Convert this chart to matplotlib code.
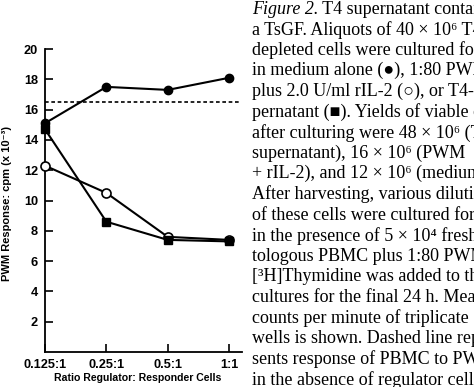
import matplotlib.pyplot as plt

ratios = ['0.125:1', '0.25:1', '0.5:1', '1:1']
medium_alone = [15.1, 17.5, 17.3, 18.1]
pwm_il2 = [12.3, 10.5, 7.6, 7.4]
t4_sup = [14.7, 8.6, 7.4, 7.3]
pbmc_alone = 16.5

caption = [
    'a TsGF. Aliquots of 40 \u00d7 10\u2076 T4-',
    'depleted cells were cultured for 3 d',
    'in medium alone (\u25cf), 1:80 PWM',
    'plus 2.0 U/ml rIL-2 (\u25cb), or T4-su',
    'pernatant (\u25a0). Yields of viable cells',
    'after culturing were 48 \u00d7 10\u2076 (T4',
    'supernatant), 16 \u00d7 10\u2076 (PWM',
    '+ rIL-2), and 12 \u00d7 10\u2076 (medium).',
    'After harvesting, various dilutions',
    'of these cells were cultured for 7 d',
    'in the presence of 5 \u00d7 10\u2074 fresh au-',
    'tologous PBMC plus 1:80 PWM.',
    '[\u00b3H]Thymidine was added to the',
    'cultures for the final 24 h. Mean',
    'counts per minute of triplicate',
    'wells is shown. Dashed line repre-',
    'sents response of PBMC to PWM',
    'in the absence of regulator cells.',
]

fig = plt.figure(figsize=(4.74, 3.87), dpi=100)
ax = fig.add_axes([45/474, 1-352/387, 197/474, 303/387])

x = range(len(ratios))
kw = dict(color='black', lw=1.5, clip_on=False, zorder=3)
ax.plot(x, medium_alone, marker='o', ms=6, mfc='black', mec='black', **kw)
ax.plot(x, pwm_il2, marker='o', ms=6.5, mfc='white', mec='black', mew=1.2, **kw)
ax.plot(x, t4_sup, marker='s', ms=5.5, mfc='black', mec='black', **kw)
ax.axhline(pbmc_alone, xmin=0, xmax=0.99, color='black', lw=1.2, ls=(0, (2.2, 1.6)))

ax.set_xlim(0, 3.21)
ax.set_ylim(0, 20)
ax.set_xticks(list(x))
ax.set_xticklabels(ratios)
ax.set_yticks(range(2, 21, 2))
for s in ['top', 'right']:
    ax.spines[s].set_visible(False)
for s in ['left', 'bottom']:
    ax.spines[s].set_linewidth(1.3)
ax.tick_params(direction='in', length=6, width=1.2, pad=5)
for lab in ax.get_xticklabels() + ax.get_yticklabels():
    lab.set_family('Liberation Sans')
    lab.set_weight('bold')
    lab.set_fontsize(9.2)

ax.set_ylabel('PWM Response: cpm (x 10\u207b\u00b3)', family=['Liberation Sans', 'DejaVu Sans'],
              weight='bold', fontsize=8)
ax.yaxis.set_label_coords(-0.165, 0.49)
ax.set_xlabel('Ratio Regulator: Responder Cells', family='Liberation Sans',
              weight='bold', fontsize=7.6)
ax.xaxis.set_label_coords(0.47, -0.085)
ax.xaxis.label.set_va('center')

# caption text, runs off the right edge like the scanned page
serif = ['Liberation Serif', 'DejaVu Serif']
fs = 13
lx = 252 / 474
step = 20.6 / 387
y0 = 1 - 9 / 387
t = fig.text(lx, y0, 'Figure 2.', family=serif, style='italic', fontsize=fs, va='center')
fig.canvas.draw()
bb = t.get_window_extent()
fig.text(bb.x1 / fig.bbox.width, y0, ' T4 supernatant contains', family=serif, fontsize=fs, va='center')
for i, line in enumerate(caption):
    fig.text(lx, y0 - (i + 1) * step, line, family=serif, fontsize=fs, va='center')

fig.savefig('out.png', dpi=100)
